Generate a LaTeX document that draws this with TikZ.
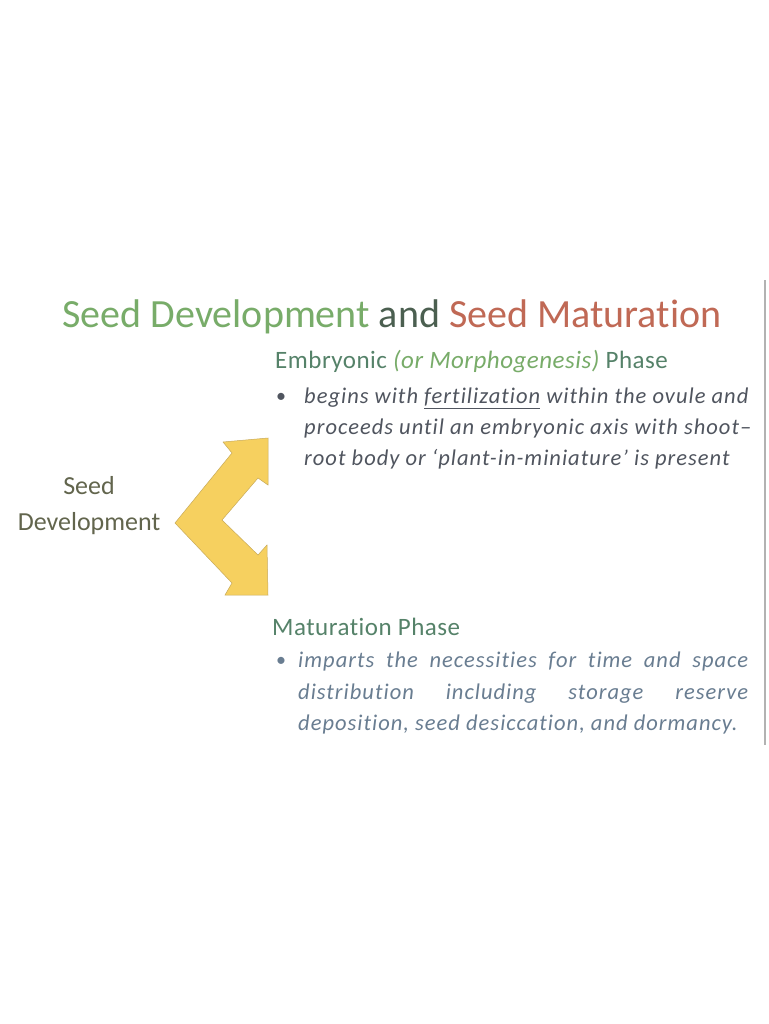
\documentclass[tikz,border=0pt]{standalone}
\usepackage{fontspec}
\setmainfont{Carlito}[Ligatures=NoCommon]
\definecolor{ttlgreen}{RGB}{120,172,105}
\definecolor{ttlred}{RGB}{192,105,85}
\definecolor{ttlmid}{RGB}{75,95,80}
\definecolor{hdgreen}{RGB}{85,130,105}
\definecolor{bodytxt}{RGB}{80,85,95}
\definecolor{bodyblue}{RGB}{105,125,145}
\definecolor{arrowfill}{RGB}{246,208,95}
\definecolor{arrowedge}{RGB}{200,170,90}
\newcommand{\jl}[1]{\hbox to 450pt{#1}}
\begin{document}
\begin{tikzpicture}[x=1pt,y=-1pt,
  hd/.style={anchor=west,font=\fontsize{25}{30}\selectfont\addfontfeatures{LetterSpace=2},text=hdgreen,inner sep=0},
  body/.style={anchor=north west,font=\fontsize{22.5}{31}\selectfont\itshape\addfontfeatures{LetterSpace=4.5},inner sep=0,align=left},
  bul/.style={font=\fontsize{20}{24}\selectfont,inner sep=0}]
\useasboundingbox (0,0) rectangle (768,1024);
\fill[white] (0,0) rectangle (768,1024);
\draw[gray!60,line width=1.5pt] (765,280) -- (765,745);
\node[anchor=base,font=\fontsize{40}{44}\selectfont,inner sep=0] (title) at (392,327)
  {\textcolor{ttlgreen}{Seed Development} \textcolor{ttlmid}{and} \textcolor{ttlred}{Seed Maturation}};
\node[hd] (emb) at (275,362) {Embryonic \textcolor{ttlgreen}{\itshape(or Morphogenesis)} Phase};
\node[bul,text=bodytxt] (b1) at (281,398) {\textbullet};
\node[body,text=bodytxt] (t1) at (304,388) {begins with \underline{fertilization} within the ovule and\\proceeds until an embryonic axis with shoot--\\root body or `plant-in-miniature' is present};
\node[anchor=center,align=center,font=\fontsize{26}{36}\selectfont,text=ttlmid!80!brown,inner sep=0] (sd) at (89,506) {Seed\\Development};
\filldraw[fill=arrowfill,draw=arrowedge,line width=0.5pt] (268,438) -- (268,485) -- (258,478) -- (222,520) -- (258,555) -- (267,545) -- (268,595) -- (225,595) -- (232,583) -- (175,523) -- (232,453) -- (223,442) -- cycle;
\node[hd] (mat) at (272,627) {Maturation Phase};
\node[bul,text=bodyblue] (b2) at (281,662) {\textbullet};
\node[body,text=bodyblue,font=\fontsize{22.5}{31.5}\selectfont\itshape\addfontfeatures{LetterSpace=4.5}] (t2) at (298,652) {\jl{imparts the necessities for time and space}\\\jl{distribution \hfill including \hfill storage \hfill reserve}\\deposition, seed desiccation, and dormancy.};
\end{tikzpicture}
\end{document}
